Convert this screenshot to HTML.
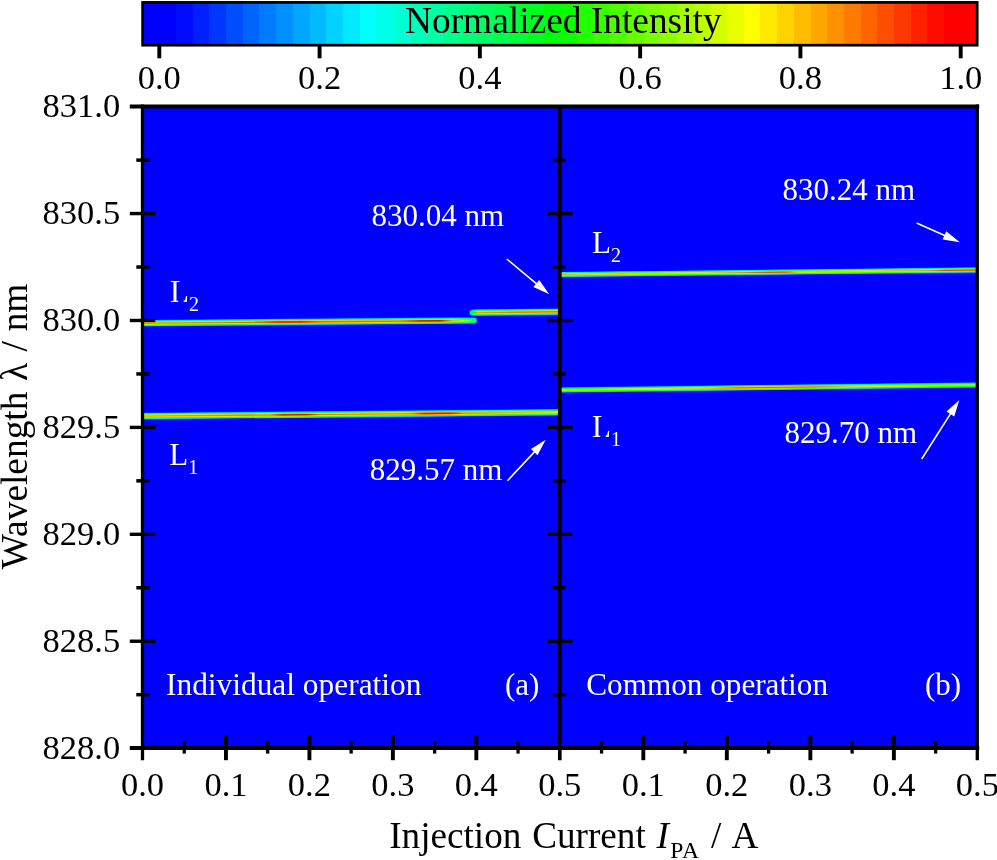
<!DOCTYPE html>
<html lang="en"><head><meta charset="utf-8"><title>Normalized Intensity</title>
<style>html,body{margin:0;padding:0;background:#fff}body{width:997px;height:860px;overflow:hidden}svg{display:block}text{font-family:"Liberation Serif","Times New Roman",serif}</style></head><body>
<svg width="997" height="860" viewBox="0 0 997 860">
<rect width="997" height="860" fill="#fff"/>
<g shape-rendering="crispEdges">
<rect x="142.50" y="2" width="17.20" height="43.5" fill="#0000ff"/>
<rect x="159.20" y="2" width="17.20" height="43.5" fill="#0000ff"/>
<rect x="175.90" y="2" width="17.20" height="43.5" fill="#000bff"/>
<rect x="192.60" y="2" width="17.20" height="43.5" fill="#0021ff"/>
<rect x="209.30" y="2" width="17.20" height="43.5" fill="#0037ff"/>
<rect x="226.00" y="2" width="17.20" height="43.5" fill="#004eff"/>
<rect x="242.70" y="2" width="17.20" height="43.5" fill="#0064ff"/>
<rect x="259.40" y="2" width="17.20" height="43.5" fill="#007aff"/>
<rect x="276.10" y="2" width="17.20" height="43.5" fill="#0090ff"/>
<rect x="292.80" y="2" width="17.20" height="43.5" fill="#00a6ff"/>
<rect x="309.50" y="2" width="17.20" height="43.5" fill="#00bcff"/>
<rect x="326.20" y="2" width="17.20" height="43.5" fill="#00d3ff"/>
<rect x="342.90" y="2" width="17.20" height="43.5" fill="#00e9ff"/>
<rect x="359.60" y="2" width="17.20" height="43.5" fill="#00ffff"/>
<rect x="376.30" y="2" width="17.20" height="43.5" fill="#00ffe9"/>
<rect x="393.00" y="2" width="17.20" height="43.5" fill="#00ffd3"/>
<rect x="409.70" y="2" width="17.20" height="43.5" fill="#00ffbc"/>
<rect x="426.40" y="2" width="17.20" height="43.5" fill="#00ffa6"/>
<rect x="443.10" y="2" width="17.20" height="43.5" fill="#00ff90"/>
<rect x="459.80" y="2" width="17.20" height="43.5" fill="#00ff7a"/>
<rect x="476.50" y="2" width="17.20" height="43.5" fill="#00ff64"/>
<rect x="493.20" y="2" width="17.20" height="43.5" fill="#00ff4e"/>
<rect x="509.90" y="2" width="17.20" height="43.5" fill="#00ff37"/>
<rect x="526.60" y="2" width="17.20" height="43.5" fill="#00ff21"/>
<rect x="543.30" y="2" width="17.20" height="43.5" fill="#00ff0b"/>
<rect x="560.00" y="2" width="17.20" height="43.5" fill="#0bff00"/>
<rect x="576.70" y="2" width="17.20" height="43.5" fill="#21ff00"/>
<rect x="593.40" y="2" width="17.20" height="43.5" fill="#37ff00"/>
<rect x="610.10" y="2" width="17.20" height="43.5" fill="#4eff00"/>
<rect x="626.80" y="2" width="17.20" height="43.5" fill="#64ff00"/>
<rect x="643.50" y="2" width="17.20" height="43.5" fill="#7aff00"/>
<rect x="660.20" y="2" width="17.20" height="43.5" fill="#90ff00"/>
<rect x="676.90" y="2" width="17.20" height="43.5" fill="#a6ff00"/>
<rect x="693.60" y="2" width="17.20" height="43.5" fill="#bcff00"/>
<rect x="710.30" y="2" width="17.20" height="43.5" fill="#d3ff00"/>
<rect x="727.00" y="2" width="17.20" height="43.5" fill="#e9ff00"/>
<rect x="743.70" y="2" width="17.20" height="43.5" fill="#ffff00"/>
<rect x="760.40" y="2" width="17.20" height="43.5" fill="#ffe900"/>
<rect x="777.10" y="2" width="17.20" height="43.5" fill="#ffd300"/>
<rect x="793.80" y="2" width="17.20" height="43.5" fill="#ffbc00"/>
<rect x="810.50" y="2" width="17.20" height="43.5" fill="#ffa600"/>
<rect x="827.20" y="2" width="17.20" height="43.5" fill="#ff9000"/>
<rect x="843.90" y="2" width="17.20" height="43.5" fill="#ff7a00"/>
<rect x="860.60" y="2" width="17.20" height="43.5" fill="#ff6400"/>
<rect x="877.30" y="2" width="17.20" height="43.5" fill="#ff4e00"/>
<rect x="894.00" y="2" width="17.20" height="43.5" fill="#ff3700"/>
<rect x="910.70" y="2" width="17.20" height="43.5" fill="#ff2100"/>
<rect x="927.40" y="2" width="17.20" height="43.5" fill="#ff0b00"/>
<rect x="944.10" y="2" width="17.20" height="43.5" fill="#ff0000"/>
<rect x="960.80" y="2" width="17.20" height="43.5" fill="#ff0000"/>
</g>
<rect x="142.6" y="2.4" width="834.6" height="42.8" fill="none" stroke="#000" stroke-width="2.7"/>
<rect x="157.35" y="45" width="3.9" height="13.3" fill="#000"/>
<text x="159.30" y="88.6" font-size="34.5" text-anchor="middle">0.0</text>
<rect x="317.63" y="45" width="3.9" height="13.3" fill="#000"/>
<text x="319.58" y="88.6" font-size="34.5" text-anchor="middle">0.2</text>
<rect x="477.91" y="45" width="3.9" height="13.3" fill="#000"/>
<text x="479.86" y="88.6" font-size="34.5" text-anchor="middle">0.4</text>
<rect x="638.19" y="45" width="3.9" height="13.3" fill="#000"/>
<text x="640.14" y="88.6" font-size="34.5" text-anchor="middle">0.6</text>
<rect x="798.47" y="45" width="3.9" height="13.3" fill="#000"/>
<text x="800.42" y="88.6" font-size="34.5" text-anchor="middle">0.8</text>
<rect x="958.75" y="45" width="3.9" height="13.3" fill="#000"/>
<text x="960.70" y="88.6" font-size="34.5" text-anchor="middle">1.0</text>
<text x="563.3" y="32.5" font-size="37.4" text-anchor="middle">Normalized Intensity</text>
<rect x="142.5" y="106.5" width="834.9" height="641.5" fill="#0000ff"/>
<clipPath id="ca"><rect x="142.5" y="106.5" width="417.3" height="641.5"/></clipPath>
<g clip-path="url(#ca)">
<linearGradient id="g1" gradientUnits="userSpaceOnUse" x1="142.5" y1="0" x2="474.0" y2="0"><stop offset="0.0000" stop-color="#0084ff"/><stop offset="0.2338" stop-color="#0087ff"/><stop offset="0.3605" stop-color="#008dff"/><stop offset="0.4087" stop-color="#0099ff"/><stop offset="0.4751" stop-color="#0099ff"/><stop offset="0.5354" stop-color="#008dff"/><stop offset="0.7768" stop-color="#008aff"/><stop offset="0.8401" stop-color="#0099ff"/><stop offset="0.8974" stop-color="#0099ff"/><stop offset="0.9336" stop-color="#0082ff"/><stop offset="0.9729" stop-color="#006bff"/><stop offset="1.0000" stop-color="#0054ff"/></linearGradient>
<path d="M142.50 323.20 L474.00 320.50" fill="none" stroke="url(#g1)" stroke-width="6.6" stroke-linecap="round"/>
<linearGradient id="g2" gradientUnits="userSpaceOnUse" x1="142.5" y1="0" x2="474.0" y2="0"><stop offset="0.0000" stop-color="#00fff7"/><stop offset="0.2338" stop-color="#00fff1"/><stop offset="0.3605" stop-color="#00ffe4"/><stop offset="0.4087" stop-color="#00ffcc"/><stop offset="0.4751" stop-color="#00ffcc"/><stop offset="0.5354" stop-color="#00ffe4"/><stop offset="0.7768" stop-color="#00ffeb"/><stop offset="0.8401" stop-color="#00ffcc"/><stop offset="0.8974" stop-color="#00ffcc"/><stop offset="0.9336" stop-color="#00fffa"/><stop offset="0.9729" stop-color="#00d6ff"/><stop offset="1.0000" stop-color="#00a8ff"/></linearGradient>
<path d="M142.50 323.20 L474.00 320.50" fill="none" stroke="url(#g2)" stroke-width="5.6" stroke-linecap="round"/>
<linearGradient id="g3" gradientUnits="userSpaceOnUse" x1="142.5" y1="0" x2="474.0" y2="0"><stop offset="0.0000" stop-color="#00ff47"/><stop offset="0.2338" stop-color="#00ff3d"/><stop offset="0.3605" stop-color="#00ff29"/><stop offset="0.4087" stop-color="#00ff00"/><stop offset="0.4751" stop-color="#00ff00"/><stop offset="0.5354" stop-color="#00ff29"/><stop offset="0.7768" stop-color="#00ff33"/><stop offset="0.8401" stop-color="#00ff00"/><stop offset="0.8974" stop-color="#00ff00"/><stop offset="0.9336" stop-color="#00ff4d"/><stop offset="0.9729" stop-color="#00ff99"/><stop offset="1.0000" stop-color="#00ffe5"/></linearGradient>
<path d="M142.50 323.20 L474.00 320.50" fill="none" stroke="url(#g3)" stroke-width="4.6" stroke-linecap="round"/>
<linearGradient id="g4" gradientUnits="userSpaceOnUse" x1="142.5" y1="0" x2="474.0" y2="0"><stop offset="0.0000" stop-color="#56ff00"/><stop offset="0.2338" stop-color="#64ff00"/><stop offset="0.3605" stop-color="#80ff00"/><stop offset="0.4087" stop-color="#b8ff00"/><stop offset="0.4751" stop-color="#b8ff00"/><stop offset="0.5354" stop-color="#80ff00"/><stop offset="0.7768" stop-color="#72ff00"/><stop offset="0.8401" stop-color="#b8ff00"/><stop offset="0.8974" stop-color="#b8ff00"/><stop offset="0.9336" stop-color="#50ff00"/><stop offset="0.9729" stop-color="#00ff18"/><stop offset="1.0000" stop-color="#00ff81"/></linearGradient>
<path d="M142.50 323.20 L474.00 320.50" fill="none" stroke="url(#g4)" stroke-width="3.6" stroke-linecap="round"/>
<linearGradient id="g5" gradientUnits="userSpaceOnUse" x1="142.5" y1="0" x2="474.0" y2="0"><stop offset="0.0000" stop-color="#ecff00"/><stop offset="0.2338" stop-color="#fdff00"/><stop offset="0.3605" stop-color="#ffde00"/><stop offset="0.4087" stop-color="#ff9900"/><stop offset="0.4751" stop-color="#ff9900"/><stop offset="0.5354" stop-color="#ffde00"/><stop offset="0.7768" stop-color="#fff000"/><stop offset="0.8401" stop-color="#ff9900"/><stop offset="0.8974" stop-color="#ff9900"/><stop offset="0.9336" stop-color="#e3ff00"/><stop offset="0.9729" stop-color="#61ff00"/><stop offset="1.0000" stop-color="#00ff21"/></linearGradient>
<path d="M142.50 323.20 L474.00 320.50" fill="none" stroke="url(#g5)" stroke-width="2.5" stroke-linecap="round"/>
<linearGradient id="g6" gradientUnits="userSpaceOnUse" x1="142.5" y1="0" x2="474.0" y2="0"><stop offset="0.0000" stop-color="#ff8f00"/><stop offset="0.2338" stop-color="#ff7a00"/><stop offset="0.3605" stop-color="#ff5200"/><stop offset="0.4087" stop-color="#ff0000"/><stop offset="0.4751" stop-color="#ff0000"/><stop offset="0.5354" stop-color="#ff5200"/><stop offset="0.7768" stop-color="#ff6600"/><stop offset="0.8401" stop-color="#ff0000"/><stop offset="0.8974" stop-color="#ff0000"/><stop offset="0.9336" stop-color="#ff9900"/><stop offset="0.9729" stop-color="#ccff00"/><stop offset="1.0000" stop-color="#33ff00"/></linearGradient>
<path d="M142.50 323.20 L474.00 320.50" fill="none" stroke="url(#g6)" stroke-width="1.4" stroke-linecap="round"/>
<linearGradient id="g7" gradientUnits="userSpaceOnUse" x1="472.5" y1="0" x2="559.8" y2="0"><stop offset="0.0000" stop-color="#004cff"/><stop offset="0.0630" stop-color="#0082ff"/><stop offset="0.5441" stop-color="#008aff"/><stop offset="0.9794" stop-color="#008aff"/></linearGradient>
<path d="M472.50 312.60 L559.80 311.70" fill="none" stroke="url(#g7)" stroke-width="6.6" stroke-linecap="round"/>
<linearGradient id="g8" gradientUnits="userSpaceOnUse" x1="472.5" y1="0" x2="559.8" y2="0"><stop offset="0.0000" stop-color="#0099ff"/><stop offset="0.0630" stop-color="#00fffa"/><stop offset="0.5441" stop-color="#00ffeb"/><stop offset="0.9794" stop-color="#00ffeb"/></linearGradient>
<path d="M472.50 312.60 L559.80 311.70" fill="none" stroke="url(#g8)" stroke-width="5.6" stroke-linecap="round"/>
<linearGradient id="g9" gradientUnits="userSpaceOnUse" x1="472.5" y1="0" x2="559.8" y2="0"><stop offset="0.0000" stop-color="#00ffff"/><stop offset="0.0630" stop-color="#00ff4d"/><stop offset="0.5441" stop-color="#00ff33"/><stop offset="0.9794" stop-color="#00ff33"/></linearGradient>
<path d="M472.50 312.60 L559.80 311.70" fill="none" stroke="url(#g9)" stroke-width="4.6" stroke-linecap="round"/>
<linearGradient id="g10" gradientUnits="userSpaceOnUse" x1="472.5" y1="0" x2="559.8" y2="0"><stop offset="0.0000" stop-color="#00ffa3"/><stop offset="0.0630" stop-color="#50ff00"/><stop offset="0.5441" stop-color="#72ff00"/><stop offset="0.9794" stop-color="#72ff00"/></linearGradient>
<path d="M472.50 312.60 L559.80 311.70" fill="none" stroke="url(#g10)" stroke-width="3.6" stroke-linecap="round"/>
<linearGradient id="g11" gradientUnits="userSpaceOnUse" x1="472.5" y1="0" x2="559.8" y2="0"><stop offset="0.0000" stop-color="#00ff4d"/><stop offset="0.0630" stop-color="#e3ff00"/><stop offset="0.5441" stop-color="#fff000"/><stop offset="0.9794" stop-color="#fff000"/></linearGradient>
<path d="M472.50 312.60 L559.80 311.70" fill="none" stroke="url(#g11)" stroke-width="2.5" stroke-linecap="round"/>
<linearGradient id="g12" gradientUnits="userSpaceOnUse" x1="472.5" y1="0" x2="559.8" y2="0"><stop offset="0.0000" stop-color="#00ff00"/><stop offset="0.0630" stop-color="#ff9900"/><stop offset="0.5441" stop-color="#ff6600"/><stop offset="0.9794" stop-color="#ff6600"/></linearGradient>
<path d="M472.50 312.60 L559.80 311.70" fill="none" stroke="url(#g12)" stroke-width="1.4" stroke-linecap="round"/>
<linearGradient id="g13" gradientUnits="userSpaceOnUse" x1="142.5" y1="0" x2="559.8" y2="0"><stop offset="0.0000" stop-color="#0082ff"/><stop offset="0.1138" stop-color="#0087ff"/><stop offset="0.3055" stop-color="#008aff"/><stop offset="0.3343" stop-color="#0099ff"/><stop offset="0.3918" stop-color="#0099ff"/><stop offset="0.4254" stop-color="#0087ff"/><stop offset="0.6410" stop-color="#0087ff"/><stop offset="0.6746" stop-color="#0099ff"/><stop offset="0.7369" stop-color="#0099ff"/><stop offset="0.7728" stop-color="#0087ff"/><stop offset="0.9286" stop-color="#007dff"/><stop offset="0.9957" stop-color="#0077ff"/></linearGradient>
<path d="M142.50 416.10 L559.80 412.30" fill="none" stroke="url(#g13)" stroke-width="6.6" stroke-linecap="butt"/>
<linearGradient id="g14" gradientUnits="userSpaceOnUse" x1="142.5" y1="0" x2="559.8" y2="0"><stop offset="0.0000" stop-color="#00fffa"/><stop offset="0.1138" stop-color="#00fff1"/><stop offset="0.3055" stop-color="#00ffeb"/><stop offset="0.3343" stop-color="#00ffcc"/><stop offset="0.3918" stop-color="#00ffcc"/><stop offset="0.4254" stop-color="#00fff1"/><stop offset="0.6410" stop-color="#00fff1"/><stop offset="0.6746" stop-color="#00ffcc"/><stop offset="0.7369" stop-color="#00ffcc"/><stop offset="0.7728" stop-color="#00fff1"/><stop offset="0.9286" stop-color="#00fbff"/><stop offset="0.9957" stop-color="#00efff"/></linearGradient>
<path d="M142.50 416.10 L559.80 412.30" fill="none" stroke="url(#g14)" stroke-width="5.6" stroke-linecap="butt"/>
<linearGradient id="g15" gradientUnits="userSpaceOnUse" x1="142.5" y1="0" x2="559.8" y2="0"><stop offset="0.0000" stop-color="#00ff4d"/><stop offset="0.1138" stop-color="#00ff3d"/><stop offset="0.3055" stop-color="#00ff33"/><stop offset="0.3343" stop-color="#00ff00"/><stop offset="0.3918" stop-color="#00ff00"/><stop offset="0.4254" stop-color="#00ff3d"/><stop offset="0.6410" stop-color="#00ff3d"/><stop offset="0.6746" stop-color="#00ff00"/><stop offset="0.7369" stop-color="#00ff00"/><stop offset="0.7728" stop-color="#00ff3d"/><stop offset="0.9286" stop-color="#00ff5c"/><stop offset="0.9957" stop-color="#00ff70"/></linearGradient>
<path d="M142.50 416.10 L559.80 412.30" fill="none" stroke="url(#g15)" stroke-width="4.6" stroke-linecap="butt"/>
<linearGradient id="g16" gradientUnits="userSpaceOnUse" x1="142.5" y1="0" x2="559.8" y2="0"><stop offset="0.0000" stop-color="#50ff00"/><stop offset="0.1138" stop-color="#64ff00"/><stop offset="0.3055" stop-color="#72ff00"/><stop offset="0.3343" stop-color="#b8ff00"/><stop offset="0.3918" stop-color="#b8ff00"/><stop offset="0.4254" stop-color="#64ff00"/><stop offset="0.6410" stop-color="#64ff00"/><stop offset="0.6746" stop-color="#b8ff00"/><stop offset="0.7369" stop-color="#b8ff00"/><stop offset="0.7728" stop-color="#64ff00"/><stop offset="0.9286" stop-color="#3bff00"/><stop offset="0.9957" stop-color="#1fff00"/></linearGradient>
<path d="M142.50 416.10 L559.80 412.30" fill="none" stroke="url(#g16)" stroke-width="3.6" stroke-linecap="butt"/>
<linearGradient id="g17" gradientUnits="userSpaceOnUse" x1="142.5" y1="0" x2="559.8" y2="0"><stop offset="0.0000" stop-color="#e3ff00"/><stop offset="0.1138" stop-color="#fdff00"/><stop offset="0.3055" stop-color="#fff000"/><stop offset="0.3343" stop-color="#ff9900"/><stop offset="0.3918" stop-color="#ff9900"/><stop offset="0.4254" stop-color="#fdff00"/><stop offset="0.6410" stop-color="#fdff00"/><stop offset="0.6746" stop-color="#ff9900"/><stop offset="0.7369" stop-color="#ff9900"/><stop offset="0.7728" stop-color="#fdff00"/><stop offset="0.9286" stop-color="#c9ff00"/><stop offset="0.9957" stop-color="#a6ff00"/></linearGradient>
<path d="M142.50 416.10 L559.80 412.30" fill="none" stroke="url(#g17)" stroke-width="2.5" stroke-linecap="butt"/>
<linearGradient id="g18" gradientUnits="userSpaceOnUse" x1="142.5" y1="0" x2="559.8" y2="0"><stop offset="0.0000" stop-color="#ff9900"/><stop offset="0.1138" stop-color="#ff7a00"/><stop offset="0.3055" stop-color="#ff6600"/><stop offset="0.3343" stop-color="#ff0000"/><stop offset="0.3918" stop-color="#ff0000"/><stop offset="0.4254" stop-color="#ff7a00"/><stop offset="0.6410" stop-color="#ff7a00"/><stop offset="0.6746" stop-color="#ff0000"/><stop offset="0.7369" stop-color="#ff0000"/><stop offset="0.7728" stop-color="#ff7a00"/><stop offset="0.9286" stop-color="#ffb800"/><stop offset="0.9957" stop-color="#ffe000"/></linearGradient>
<path d="M142.50 416.10 L559.80 412.30" fill="none" stroke="url(#g18)" stroke-width="1.4" stroke-linecap="butt"/>
</g><g>
<linearGradient id="g19" gradientUnits="userSpaceOnUse" x1="559.8" y1="0" x2="977.4" y2="0"><stop offset="0.0005" stop-color="#0082ff"/><stop offset="0.0963" stop-color="#007aff"/><stop offset="0.1442" stop-color="#0087ff"/><stop offset="0.1920" stop-color="#0077ff"/><stop offset="0.3357" stop-color="#007aff"/><stop offset="0.4435" stop-color="#0087ff"/><stop offset="0.4986" stop-color="#0093ff"/><stop offset="0.5393" stop-color="#0093ff"/><stop offset="0.5752" stop-color="#007aff"/><stop offset="0.7428" stop-color="#007aff"/><stop offset="0.7907" stop-color="#0084ff"/><stop offset="0.8865" stop-color="#0082ff"/><stop offset="0.9224" stop-color="#0093ff"/><stop offset="0.9943" stop-color="#0093ff"/></linearGradient>
<path d="M559.80 274.60 L977.40 270.00" fill="none" stroke="url(#g19)" stroke-width="5.3" stroke-linecap="butt"/>
<linearGradient id="g20" gradientUnits="userSpaceOnUse" x1="559.8" y1="0" x2="977.4" y2="0"><stop offset="0.0005" stop-color="#00fffa"/><stop offset="0.0963" stop-color="#00f5ff"/><stop offset="0.1442" stop-color="#00fff1"/><stop offset="0.1920" stop-color="#00efff"/><stop offset="0.3357" stop-color="#00f5ff"/><stop offset="0.4435" stop-color="#00fff1"/><stop offset="0.4986" stop-color="#00ffd8"/><stop offset="0.5393" stop-color="#00ffd8"/><stop offset="0.5752" stop-color="#00f5ff"/><stop offset="0.7428" stop-color="#00f5ff"/><stop offset="0.7907" stop-color="#00fff7"/><stop offset="0.8865" stop-color="#00fffa"/><stop offset="0.9224" stop-color="#00ffd8"/><stop offset="0.9943" stop-color="#00ffd8"/></linearGradient>
<path d="M559.80 274.60 L977.40 270.00" fill="none" stroke="url(#g20)" stroke-width="4.5" stroke-linecap="butt"/>
<linearGradient id="g21" gradientUnits="userSpaceOnUse" x1="559.8" y1="0" x2="977.4" y2="0"><stop offset="0.0005" stop-color="#00ff4d"/><stop offset="0.0963" stop-color="#00ff66"/><stop offset="0.1442" stop-color="#00ff3d"/><stop offset="0.1920" stop-color="#00ff70"/><stop offset="0.3357" stop-color="#00ff66"/><stop offset="0.4435" stop-color="#00ff3d"/><stop offset="0.4986" stop-color="#00ff14"/><stop offset="0.5393" stop-color="#00ff14"/><stop offset="0.5752" stop-color="#00ff66"/><stop offset="0.7428" stop-color="#00ff66"/><stop offset="0.7907" stop-color="#00ff47"/><stop offset="0.8865" stop-color="#00ff4d"/><stop offset="0.9224" stop-color="#00ff14"/><stop offset="0.9943" stop-color="#00ff14"/></linearGradient>
<path d="M559.80 274.60 L977.40 270.00" fill="none" stroke="url(#g21)" stroke-width="3.7" stroke-linecap="butt"/>
<linearGradient id="g22" gradientUnits="userSpaceOnUse" x1="559.8" y1="0" x2="977.4" y2="0"><stop offset="0.0005" stop-color="#50ff00"/><stop offset="0.0963" stop-color="#2dff00"/><stop offset="0.1442" stop-color="#64ff00"/><stop offset="0.1920" stop-color="#1fff00"/><stop offset="0.3357" stop-color="#2dff00"/><stop offset="0.4435" stop-color="#64ff00"/><stop offset="0.4986" stop-color="#9cff00"/><stop offset="0.5393" stop-color="#9cff00"/><stop offset="0.5752" stop-color="#2dff00"/><stop offset="0.7428" stop-color="#2dff00"/><stop offset="0.7907" stop-color="#56ff00"/><stop offset="0.8865" stop-color="#50ff00"/><stop offset="0.9224" stop-color="#9cff00"/><stop offset="0.9943" stop-color="#9cff00"/></linearGradient>
<path d="M559.80 274.60 L977.40 270.00" fill="none" stroke="url(#g22)" stroke-width="2.9" stroke-linecap="butt"/>
<linearGradient id="g23" gradientUnits="userSpaceOnUse" x1="559.8" y1="0" x2="977.4" y2="0"><stop offset="0.0005" stop-color="#e3ff00"/><stop offset="0.0963" stop-color="#b8ff00"/><stop offset="0.1442" stop-color="#fdff00"/><stop offset="0.1920" stop-color="#a6ff00"/><stop offset="0.3357" stop-color="#b8ff00"/><stop offset="0.4435" stop-color="#fdff00"/><stop offset="0.4986" stop-color="#ffbc00"/><stop offset="0.5393" stop-color="#ffbc00"/><stop offset="0.5752" stop-color="#b8ff00"/><stop offset="0.7428" stop-color="#b8ff00"/><stop offset="0.7907" stop-color="#ecff00"/><stop offset="0.8865" stop-color="#e3ff00"/><stop offset="0.9224" stop-color="#ffbc00"/><stop offset="0.9943" stop-color="#ffbc00"/></linearGradient>
<path d="M559.80 274.60 L977.40 270.00" fill="none" stroke="url(#g23)" stroke-width="2" stroke-linecap="butt"/>
<linearGradient id="g24" gradientUnits="userSpaceOnUse" x1="559.8" y1="0" x2="977.4" y2="0"><stop offset="0.0005" stop-color="#ff9900"/><stop offset="0.0963" stop-color="#ffcc00"/><stop offset="0.1442" stop-color="#ff7a00"/><stop offset="0.1920" stop-color="#ffe000"/><stop offset="0.3357" stop-color="#ffcc00"/><stop offset="0.4435" stop-color="#ff7a00"/><stop offset="0.4986" stop-color="#ff2900"/><stop offset="0.5393" stop-color="#ff2900"/><stop offset="0.5752" stop-color="#ffcc00"/><stop offset="0.7428" stop-color="#ffcc00"/><stop offset="0.7907" stop-color="#ff8f00"/><stop offset="0.8865" stop-color="#ff9900"/><stop offset="0.9224" stop-color="#ff2900"/><stop offset="0.9943" stop-color="#ff2900"/></linearGradient>
<path d="M559.80 274.60 L977.40 270.00" fill="none" stroke="url(#g24)" stroke-width="1" stroke-linecap="butt"/>
<linearGradient id="g25" gradientUnits="userSpaceOnUse" x1="559.8" y1="0" x2="977.4" y2="0"><stop offset="0.0005" stop-color="#006eff"/><stop offset="0.2160" stop-color="#0074ff"/><stop offset="0.3357" stop-color="#007aff"/><stop offset="0.4243" stop-color="#008eff"/><stop offset="0.6063" stop-color="#008eff"/><stop offset="0.6949" stop-color="#007aff"/><stop offset="0.8625" stop-color="#0073ff"/><stop offset="0.9943" stop-color="#006bff"/></linearGradient>
<path d="M559.80 390.00 L977.40 385.00" fill="none" stroke="url(#g25)" stroke-width="5.3" stroke-linecap="butt"/>
<linearGradient id="g26" gradientUnits="userSpaceOnUse" x1="559.8" y1="0" x2="977.4" y2="0"><stop offset="0.0005" stop-color="#00dcff"/><stop offset="0.2160" stop-color="#00e9ff"/><stop offset="0.3357" stop-color="#00f5ff"/><stop offset="0.4243" stop-color="#00ffe1"/><stop offset="0.6063" stop-color="#00ffe1"/><stop offset="0.6949" stop-color="#00f5ff"/><stop offset="0.8625" stop-color="#00e5ff"/><stop offset="0.9943" stop-color="#00d6ff"/></linearGradient>
<path d="M559.80 390.00 L977.40 385.00" fill="none" stroke="url(#g26)" stroke-width="4.5" stroke-linecap="butt"/>
<linearGradient id="g27" gradientUnits="userSpaceOnUse" x1="559.8" y1="0" x2="977.4" y2="0"><stop offset="0.0005" stop-color="#00ff8f"/><stop offset="0.2160" stop-color="#00ff7a"/><stop offset="0.3357" stop-color="#00ff66"/><stop offset="0.4243" stop-color="#00ff24"/><stop offset="0.6063" stop-color="#00ff24"/><stop offset="0.6949" stop-color="#00ff66"/><stop offset="0.8625" stop-color="#00ff80"/><stop offset="0.9943" stop-color="#00ff99"/></linearGradient>
<path d="M559.80 390.00 L977.40 385.00" fill="none" stroke="url(#g27)" stroke-width="3.7" stroke-linecap="butt"/>
<linearGradient id="g28" gradientUnits="userSpaceOnUse" x1="559.8" y1="0" x2="977.4" y2="0"><stop offset="0.0005" stop-color="#00ff0b"/><stop offset="0.2160" stop-color="#11ff00"/><stop offset="0.3357" stop-color="#2dff00"/><stop offset="0.4243" stop-color="#87ff00"/><stop offset="0.6063" stop-color="#87ff00"/><stop offset="0.6949" stop-color="#2dff00"/><stop offset="0.8625" stop-color="#0aff00"/><stop offset="0.9943" stop-color="#00ff18"/></linearGradient>
<path d="M559.80 390.00 L977.40 385.00" fill="none" stroke="url(#g28)" stroke-width="2.9" stroke-linecap="butt"/>
<linearGradient id="g29" gradientUnits="userSpaceOnUse" x1="559.8" y1="0" x2="977.4" y2="0"><stop offset="0.0005" stop-color="#72ff00"/><stop offset="0.2160" stop-color="#95ff00"/><stop offset="0.3357" stop-color="#b8ff00"/><stop offset="0.4243" stop-color="#ffd600"/><stop offset="0.6063" stop-color="#ffd600"/><stop offset="0.6949" stop-color="#b8ff00"/><stop offset="0.8625" stop-color="#8cff00"/><stop offset="0.9943" stop-color="#61ff00"/></linearGradient>
<path d="M559.80 390.00 L977.40 385.00" fill="none" stroke="url(#g29)" stroke-width="2" stroke-linecap="butt"/>
<linearGradient id="g30" gradientUnits="userSpaceOnUse" x1="559.8" y1="0" x2="977.4" y2="0"><stop offset="0.0005" stop-color="#e0ff00"/><stop offset="0.2160" stop-color="#fff500"/><stop offset="0.3357" stop-color="#ffcc00"/><stop offset="0.4243" stop-color="#ff4700"/><stop offset="0.6063" stop-color="#ff4700"/><stop offset="0.6949" stop-color="#ffcc00"/><stop offset="0.8625" stop-color="#ffff00"/><stop offset="0.9943" stop-color="#ccff00"/></linearGradient>
<path d="M559.80 390.00 L977.40 385.00" fill="none" stroke="url(#g30)" stroke-width="1" stroke-linecap="butt"/>
</g>
<g stroke="#000" fill="none">
<path stroke-width="4" d="M129.8 106.5 H979.2"/>
<path stroke-width="4" d="M129.8 748.0 H979.2"/>
<path stroke-width="3.3" d="M142.5 104.5 V760.2"/>
<path stroke-width="3.7" d="M559.8 106.5 V760.2"/>
<path stroke-width="3.3" d="M977.3 104.5 V760.2"/>
</g>
<g stroke="#000" fill="none">
<path stroke-width="3.5" d="M136.3 160.11 H149.6"/>
<path stroke-width="3.5" d="M552.8 160.11 H565.8"/>
<path stroke-width="3.4" d="M129.8 213.57 H155.2"/>
<path stroke-width="3.4" d="M547.1 213.57 H572.5"/>
<path stroke-width="3.5" d="M136.3 267.02 H149.6"/>
<path stroke-width="3.5" d="M552.8 267.02 H565.8"/>
<path stroke-width="3.4" d="M129.8 320.48 H155.2"/>
<path stroke-width="3.4" d="M547.1 320.48 H572.5"/>
<path stroke-width="3.5" d="M136.3 373.94 H149.6"/>
<path stroke-width="3.5" d="M552.8 373.94 H565.8"/>
<path stroke-width="3.4" d="M129.8 427.40 H155.2"/>
<path stroke-width="3.4" d="M547.1 427.40 H572.5"/>
<path stroke-width="3.5" d="M136.3 480.86 H149.6"/>
<path stroke-width="3.5" d="M552.8 480.86 H565.8"/>
<path stroke-width="3.4" d="M129.8 534.32 H155.2"/>
<path stroke-width="3.4" d="M547.1 534.32 H572.5"/>
<path stroke-width="3.5" d="M136.3 587.77 H149.6"/>
<path stroke-width="3.5" d="M552.8 587.77 H565.8"/>
<path stroke-width="3.4" d="M129.8 641.23 H155.2"/>
<path stroke-width="3.4" d="M547.1 641.23 H572.5"/>
<path stroke-width="3.5" d="M136.3 694.69 H149.6"/>
<path stroke-width="3.5" d="M552.8 694.69 H565.8"/>
<path stroke-width="3.3" d="M184.23 741.4 V753.6"/>
<path stroke-width="3.9" d="M225.96 735.3 V760.2"/>
<path stroke-width="3.3" d="M267.69 741.4 V753.6"/>
<path stroke-width="3.9" d="M309.42 735.3 V760.2"/>
<path stroke-width="3.3" d="M351.15 741.4 V753.6"/>
<path stroke-width="3.9" d="M392.88 735.3 V760.2"/>
<path stroke-width="3.3" d="M434.61 741.4 V753.6"/>
<path stroke-width="3.9" d="M476.34 735.3 V760.2"/>
<path stroke-width="3.3" d="M518.07 741.4 V753.6"/>
<path stroke-width="3.3" d="M601.56 741.4 V753.6"/>
<path stroke-width="3.9" d="M643.32 735.3 V760.2"/>
<path stroke-width="3.3" d="M685.08 741.4 V753.6"/>
<path stroke-width="3.9" d="M726.84 735.3 V760.2"/>
<path stroke-width="3.3" d="M768.60 741.4 V753.6"/>
<path stroke-width="3.9" d="M810.36 735.3 V760.2"/>
<path stroke-width="3.3" d="M852.12 741.4 V753.6"/>
<path stroke-width="3.9" d="M893.88 735.3 V760.2"/>
<path stroke-width="3.3" d="M935.64 741.4 V753.6"/>
</g>
<text x="120.2" y="117.2" font-size="34.5" text-anchor="end">831.0</text>
<text x="120.2" y="224.1" font-size="34.5" text-anchor="end">830.5</text>
<text x="120.2" y="331.0" font-size="34.5" text-anchor="end">830.0</text>
<text x="120.2" y="437.9" font-size="34.5" text-anchor="end">829.5</text>
<text x="120.2" y="544.9" font-size="34.5" text-anchor="end">829.0</text>
<text x="120.2" y="651.8" font-size="34.5" text-anchor="end">828.5</text>
<text x="120.2" y="758.7" font-size="34.5" text-anchor="end">828.0</text>
<text x="142.5" y="796.2" font-size="34.5" text-anchor="middle">0.0</text>
<text x="226.0" y="796.2" font-size="34.5" text-anchor="middle">0.1</text>
<text x="309.4" y="796.2" font-size="34.5" text-anchor="middle">0.2</text>
<text x="392.9" y="796.2" font-size="34.5" text-anchor="middle">0.3</text>
<text x="476.3" y="796.2" font-size="34.5" text-anchor="middle">0.4</text>
<text x="559.8" y="796.2" font-size="34.5" text-anchor="middle">0.5</text>
<text x="643.3" y="796.2" font-size="34.5" text-anchor="middle">0.1</text>
<text x="726.8" y="796.2" font-size="34.5" text-anchor="middle">0.2</text>
<text x="810.4" y="796.2" font-size="34.5" text-anchor="middle">0.3</text>
<text x="893.9" y="796.2" font-size="34.5" text-anchor="middle">0.4</text>
<text x="977.4" y="796.2" font-size="34.5" text-anchor="middle">0.5</text>
<text x="389.2" y="848.3" font-size="37.2" word-spacing="1.5">Injection Current</text>
<text x="656.4" y="848.3" font-size="37.2" font-style="italic">I</text>
<text x="670.2" y="857.8" font-size="23.6" letter-spacing="0.8">PA</text>
<text x="711" y="848.3" font-size="37.2">/</text>
<text x="731.6" y="848.3" font-size="37.2">A</text>
<text transform="translate(27.4 569.2) rotate(-90)" font-size="37.4">Wavelength<tspan dx="1.2"> λ</tspan><tspan dx="2"> /</tspan><tspan dx="0.4"> nm</tspan></text>
<g fill="#fff" font-size="31">
<text x="166" y="694.5" font-size="31.4">Individual operation</text>
<text x="505" y="694.5">(a)</text>
<text x="586.3" y="694.5" font-size="31.2">Common operation</text>
<text x="925" y="694.5">(b)</text>
<text x="502.3" y="480" text-anchor="end">829.57 nm</text>
<text x="915.0" y="199.7" text-anchor="end">830.24 nm</text>
<text x="917.2" y="443.3" text-anchor="end">829.70 nm</text>
<text x="504" y="225.7" text-anchor="end">830.04 nm</text>
<text x="170.0" y="302.0">L<tspan font-size="20" dy="8.6">2</tspan></text>
<rect x="178.2" y="299.4" width="5.5" height="3.2" fill="#0000ff"/>
<text x="169.3" y="465.3">L<tspan font-size="20" dy="8.6">1</tspan></text>
<text x="592.0" y="253.1">L<tspan font-size="20" dy="8.6">2</tspan></text>
<text x="592.0" y="437.4">L<tspan font-size="20" dy="8.6">1</tspan></text>
<rect x="600.2" y="434.8" width="5.5" height="3.2" fill="#0000ff"/>
</g>
<path d="M506.7 259.0 L537.8 284.8" stroke="#fff" stroke-width="1.6" fill="none"/>
<path d="M549.2 294.3 L533.4 287.0 L539.2 280.1 Z" fill="#fff"/>
<path d="M507.5 480.8 L535.6 450.6" stroke="#fff" stroke-width="1.6" fill="none"/>
<path d="M545.7 439.8 L537.5 455.2 L531.0 449.0 Z" fill="#fff"/>
<path d="M916.6 222.9 L946.3 236.2" stroke="#fff" stroke-width="1.6" fill="none"/>
<path d="M959.8 242.2 L942.6 239.5 L946.3 231.2 Z" fill="#fff"/>
<path d="M921.7 459.0 L951.4 412.4" stroke="#fff" stroke-width="1.6" fill="none"/>
<path d="M959.4 399.9 L954.2 416.5 L946.6 411.6 Z" fill="#fff"/>
</svg></body></html>
